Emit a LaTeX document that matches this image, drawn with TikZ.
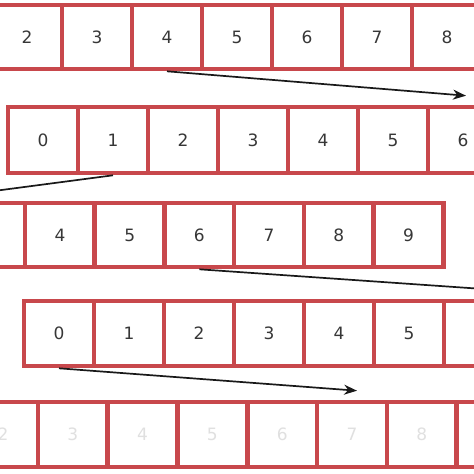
\documentclass[tikz,border=0pt]{standalone}
\usepackage{fontspec}
\setmainfont{DejaVu Sans}
\usetikzlibrary{arrows.meta}
\definecolor{cellred}{RGB}{200,72,76}
\definecolor{digit}{RGB}{55,55,55}
\begin{document}
\begin{tikzpicture}[x=1pt,y=-1pt,
  cell/.style={draw=cellred,line width=4.6pt,fill=white,minimum width=70pt,minimum height=64pt,inner sep=0pt,font=\fontsize{17}{17}\selectfont,text=digit},
  faint/.style={text=black!12},
  conn/.style={line width=1.7pt,draw=black!90,-{Stealth[length=13pt,width=10pt]}}]
\useasboundingbox (0,0) rectangle (474,474);
\fill[white] (0,0) rectangle (474,474);
\clip (0,0) rectangle (474,474);
% row 1
\foreach \i/\t in {0/2,1/3,2/4,3/5,4/6,5/7,6/8}
  \node[cell] (r1c\i) at (27+70*\i,37) {\t};
% row 2
\foreach \i/\t in {0/0,1/1,2/2,3/3,4/4,5/5,6/6}
  \node[cell,minimum height=66pt] (r2c\i) at (43+70*\i,140) {\t};
% row 3
\node[cell] (r3cp) at (-10,235) {};
\foreach \i/\t in {0/4,1/5,2/6,3/7,4/8,5/9}
  \node[cell] (r3c\i) at (60+69.7*\i,235) {\t};
% row 4
\foreach \i/\t in {0/0,1/1,2/2,3/3,4/4,5/5,6/6}
  \node[cell,minimum height=65pt] (r4c\i) at (59+70*\i,333.5) {\t};
% row 5
\foreach \i/\t in {0/2,1/3,2/4,3/5,4/6,5/7,6/8,7/9}
  \node[cell,faint,minimum height=65pt] (r5c\i) at (3+69.8*\i,434.5) {\t};
% connectors
\coordinate (e2) at (-25,193.5);
\coordinate (e3) at (505,290.5);
\draw[conn] (r1c2.south) -- ([yshift=9pt,xshift=3pt]r2c6.north);
\draw[conn] (r2c1.south) -- (e2);
\draw[conn] (r3c2.south) -- (e3);
\draw[conn] (r4c0.south) -- ([yshift=9pt,xshift=5pt]r5c5.north);
\end{tikzpicture}
\end{document}
